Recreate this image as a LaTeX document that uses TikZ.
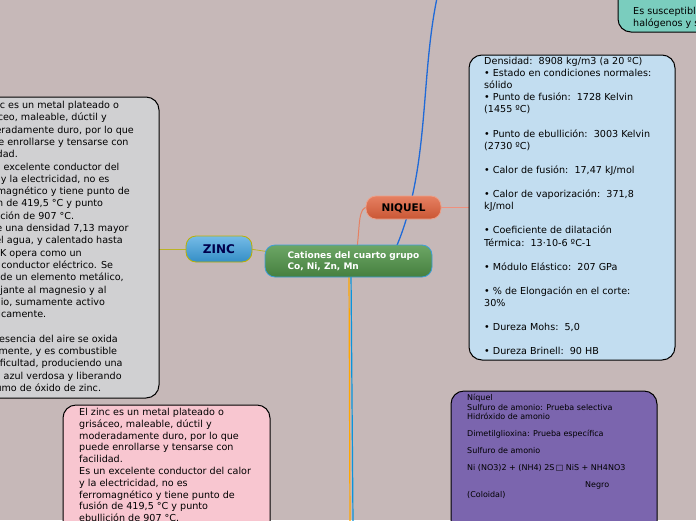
\documentclass[tikz,border=0pt]{standalone}
\usepackage{fontspec}
\setmainfont{DejaVu Sans}
\usetikzlibrary{positioning}
\definecolor{bg}{HTML}{C6B8B8}
\definecolor{grayb}{HTML}{D0D0D2}
\definecolor{pinkb}{HTML}{F8C6D0}
\definecolor{blueb}{HTML}{C2DDF0}
\definecolor{purpb}{HTML}{7B65AE}
\definecolor{tealb}{HTML}{7ACDBE}
\definecolor{niq}{HTML}{E0603A}
\definecolor{zin}{HTML}{3A9EDC}
\definecolor{cen}{HTML}{52964A}
\definecolor{bline}{HTML}{1F6AD8}
\begin{document}
\begin{tikzpicture}[x=1pt,y=-1pt,
  box/.style={draw=black,line width=1pt,rounded corners=13pt},
  txt/.style={anchor=north west,align=left,inner sep=0pt,font=\fontsize{9.6}{12.1}\selectfont},
  topic/.style={rounded corners=10pt,line width=0.8pt,font=\bfseries}]
\clip (0,0) rectangle (696,520);
\fill[bg] (0,0) rectangle (696,520);
% connectors
\draw[bline,line width=1.3pt] (395,250) .. controls (430,170) and (420,80) .. (437,-2);
\draw[niq!80,line width=1pt] (357,248) .. controls (360,225) and (358,207) .. (368,207);
\draw[orange!70!yellow,line width=1.2pt] (349,272) -- (350,522);
\draw[cyan!80!blue,line width=1.2pt] (351,272) -- (353,522);
\draw[olive!50!yellow!80!gray,line width=0.8pt] (150,249) -- (190,249);
\draw[olive!50!yellow!80!gray,line width=0.8pt] (250,249) -- (270,252);
\draw[niq!50!pink,line width=0.8pt] (440,207) -- (472,207);
% teal box
\draw[box,fill=tealb] (618,-20) rectangle (720,32);
\node[txt] (teal) at (633,7) {Es susceptible\\halógenos y s};
% gray box
\draw[box,fill=grayb] (-40,97) rectangle (159,398);
\node[txt,font=\fontsize{9.6}{12.3}\selectfont] (zt) at (-26,101) {El zinc es un metal plateado o\\grisáceo, maleable, dúctil y\\moderadamente duro, por lo que\\puede enrollarse y tensarse con\\facilidad.\\Es un excelente conductor del\\calor y la electricidad, no es\\ferromagnético y tiene punto de\\fusión de 419,5 °C y punto\\ebullición de 907 °C.\\Posee una densidad 7,13 mayor\\que el agua, y calentado hasta\\100 ºK opera como un\\buen conductor eléctrico. Se\\trata de un elemento metálico,\\semejante al magnesio y al\\cadmio, sumamente activo\\químicamente.\\[12.3pt]En presencia del aire se oxida\\lentamente, y es combustible\\sin dificultad, produciendo una\\llama azul verdosa y liberando\\un humo de óxido de zinc.};
% pink box
\draw[box,fill=pinkb] (63,405) rectangle (270,540);
\node[txt,font=\fontsize{9.6}{11.8}\selectfont] (pt) at (79,408) {El zinc es un metal plateado o\\grisáceo, maleable, dúctil y\\moderadamente duro, por lo que\\puede enrollarse y tensarse con\\facilidad.\\Es un excelente conductor del calor\\y la electricidad, no es\\ferromagnético y tiene punto de\\fusión de 419,5 °C y punto\\ebullición de 907 °C.};
% light blue box
\draw[box,fill=blueb] (469,55) rectangle (675,360);
\node[txt] (bt) at (484,57) {Densidad:\ \ 8908 kg/m3 (a 20 ºC)\\• Estado en condiciones normales:\\sólido\\• Punto de fusión:\ \ 1728 Kelvin\\(1455 ºC)\\[12.1pt]• Punto de ebullición:\ \ 3003 Kelvin\\(2730 ºC)\\[12.1pt]• Calor de fusión:\ \ 17,47 kJ/mol\\[12.1pt]• Calor de vaporización:\ \ 371,8\\kJ/mol\\[12.1pt]• Coeficiente de dilatación\\Térmica:\ \ 13·10-6 ºC-1\\[12.1pt]• Módulo Elástico:\ \ 207 GPa\\[12.1pt]• \% de Elongación en el corte:\\30\%\\[12.1pt]• Dureza Mohs:\ \ 5,0\\[12.1pt]• Dureza Brinell:\ \ 90 HB};
% purple box
\draw[box,fill=purpb] (451,391) rectangle (657,540);
\node[txt,font=\fontsize{8}{9.5}\selectfont] (ut) at (467,394) {Níquel\\Sulfuro de amonio: Prueba selectiva\\Hidróxido de amonio\\[7.5pt]Dimetilglioxina: Prueba específica\\[7.5pt]Sulfuro de amonio\\[7.5pt]Ni (NO3)2 + (NH4) 2S\,□ NiS + NH4NO3\\[7.5pt]\hspace*{118pt}Negro\\(Coloidal)};
% topics
\draw[topic,draw=niq!60!white,top color=niq!80!white,bottom color=niq!90!black] (366,196) rectangle (441,219);
\node[font=\bfseries\fontsize{10.5}{12}\selectfont] (niquel) at (403.5,208) {NIQUEL};
\draw[topic,draw=olive!60!yellow,top color=zin!70!white,bottom color=zin!90!black] (186,236) rectangle (252,262);
\node[font=\bfseries\fontsize{12}{14}\selectfont,text=blue!30!black] (zinc) at (219,249) {ZINC};
\draw[topic,draw=zin,top color=cen!85!white,bottom color=cen!85!black] (265,245) rectangle (432,277);
\node[font=\bfseries\fontsize{9}{11.5}\selectfont,text=white,align=left,anchor=west] (center) at (284,261) {Cationes del cuarto grupo\\Co, Ni, Zn, Mn};
\end{tikzpicture}
\end{document}
